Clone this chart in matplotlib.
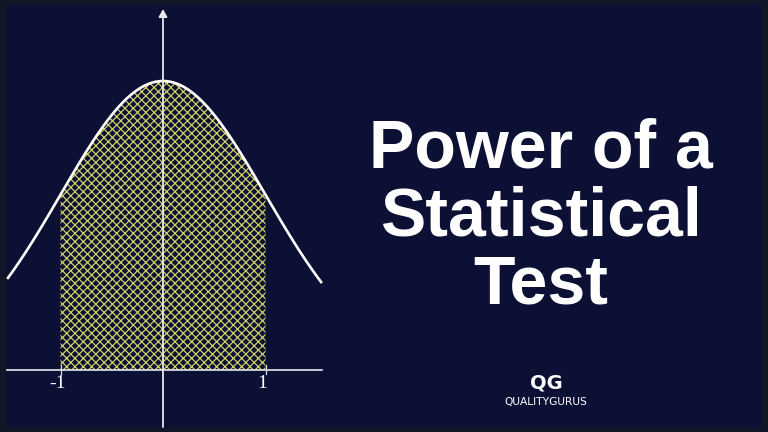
import numpy as np
import matplotlib.pyplot as plt
from matplotlib.patches import Rectangle

# normal curve parameters and the visible range (in sigma units)
mu = 0.0
sigma = 1.0
x_range = (-1.52, 1.55)
shade_range = (-1, 1)
tick_values = [-1, 1]
tick_labels = ["-1", "1"]

title_lines = ["Power of a", "Statistical", "Test"]
logo_mark = "QG"
logo_name = "QUALITYGURUS"

outer_bg = "#121428"
inner_bg = "#0d1035"
hatch_col = "#cfcf66"

W, H = 768, 432
fig = plt.figure(figsize=(W / 100, H / 100), dpi=100, facecolor=outer_bg)
fig.patches.append(Rectangle((6 / W, 5 / H), 756 / W, 422 / H,
                             transform=fig.transFigure, facecolor=inner_bg,
                             edgecolor="none", zorder=-10))

# axes over the whole figure; origin at pixel (163, 370 from top)
ax = fig.add_axes([0, 0, 1, 1])
ax.set_facecolor("none")
ax.axis("off")
ax.set_zorder(5)
px_x = 102.5          # pixels per sigma
pdf_peak = 1 / (sigma * np.sqrt(2 * np.pi))
px_y = 289 / pdf_peak  # pixels per pdf unit
x0_px, y0_px = 163, H - 370
ax.set_xlim(-x0_px / px_x, (W - x0_px) / px_x)
ax.set_ylim(-y0_px / px_y, (H - y0_px) / px_y)

x = np.linspace(x_range[0], x_range[1], 400)
pdf = np.exp(-0.5 * ((x - mu) / sigma) ** 2) * pdf_peak

plt.rcParams["hatch.linewidth"] = 0.9
mask = (x >= shade_range[0]) & (x <= shade_range[1])
xs = np.concatenate([[shade_range[0]], x[mask], [shade_range[1]]])
ys = np.exp(-0.5 * ((xs - mu) / sigma) ** 2) * pdf_peak
ax.fill_between(xs, 0, ys, facecolor="none", edgecolor=hatch_col,
                hatch="xxxx", linewidth=0, zorder=2)

ax.plot(x, pdf, color="white", lw=1.9, zorder=4, solid_capstyle="butt")
ax.plot([x_range[0], x_range[1]], [0, 0], color="#e8e8ee", lw=1.2, zorder=3)

# vertical axis with arrow
y_bot = (5 - y0_px) / px_y
y_top = (H - 9 - y0_px) / px_y
ax.annotate("", xy=(0, y_top), xytext=(0, y_bot),
            arrowprops=dict(arrowstyle="-|>,head_width=0.25,head_length=0.45",
                            color="#e8e8ee", lw=1.3, shrinkA=0, shrinkB=0),
            zorder=5)

tick_len = 4 / px_y
for tv, tl in zip(tick_values, tick_labels):
    ax.plot([tv, tv], [-tick_len, tick_len * 1.2], color="#d8d8e0", lw=0.9, zorder=3)
    ax.text(tv - 0.03, -13 / px_y, tl, color="white", ha="center", va="center",
            fontsize=14, family="Liberation Serif")

# title text
for line, base in zip(title_lines, [167, 236, 304]):
    fig.text(541 / W, 1 - base / H, line, color="white", ha="center",
             va="baseline", fontsize=49, fontweight="bold",
             family="Liberation Sans")

fig.text(546 / W, 1 - 383 / H, logo_mark, color="white", ha="center",
         va="center", fontsize=14, fontweight="bold", family="DejaVu Sans")
fig.text(546 / W, 1 - 402 / H, logo_name, color="white", ha="center",
         va="center", fontsize=7.7, family="DejaVu Sans")

fig.savefig("out.png", dpi=100, facecolor=outer_bg)
